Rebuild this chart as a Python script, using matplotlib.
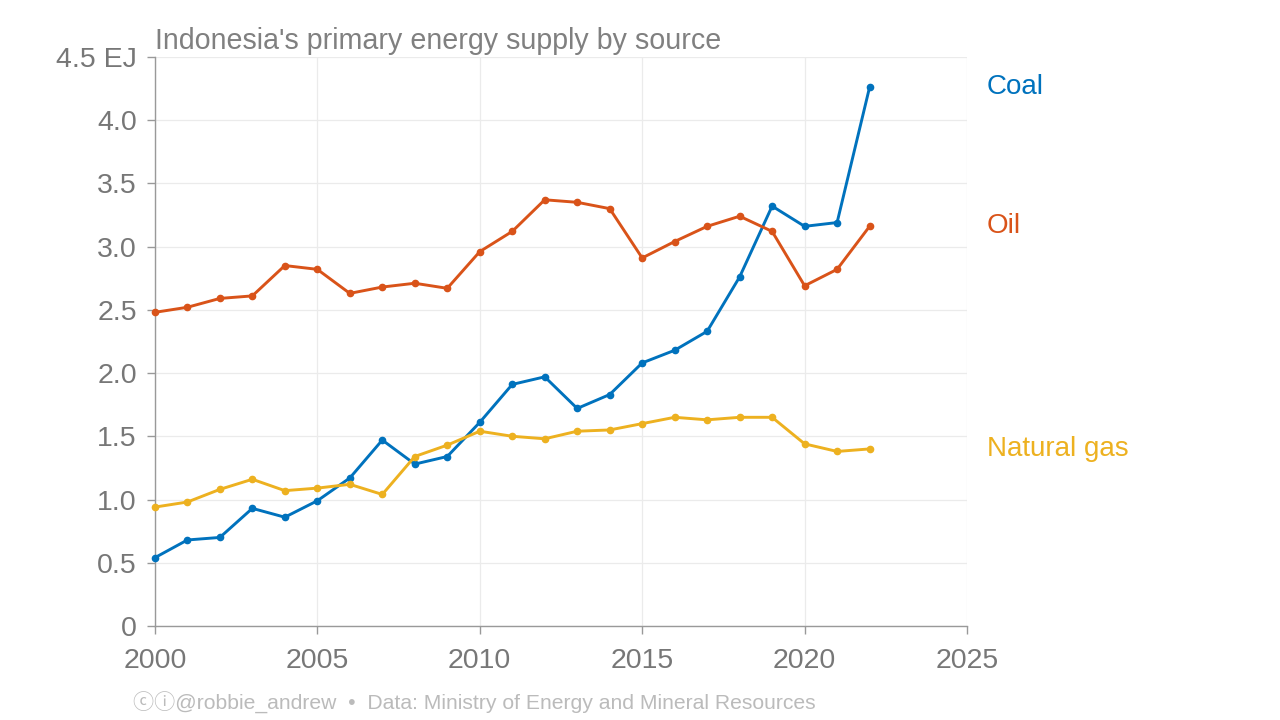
import numpy as np
import matplotlib.pyplot as plt

plt.rcParams['font.family'] = ['Liberation Sans', 'DejaVu Sans']

# ------------------------------------------------------------
# Data (EJ)
# ------------------------------------------------------------
years = list(range(2000, 2023))

coal = [0.54, 0.68, 0.70, 0.93, 0.86, 0.99, 1.17, 1.47, 1.28, 1.34, 1.61,
        1.91, 1.97, 1.72, 1.83, 2.08, 2.18, 2.33, 2.76, 3.32, 3.16, 3.19, 4.26]
oil = [2.48, 2.52, 2.59, 2.61, 2.85, 2.82, 2.63, 2.68, 2.71, 2.67, 2.96,
       3.12, 3.37, 3.35, 3.30, 2.91, 3.04, 3.16, 3.24, 3.12, 2.69, 2.82, 3.16]
gas = [0.94, 0.98, 1.08, 1.16, 1.07, 1.09, 1.12, 1.04, 1.34, 1.43, 1.54,
       1.50, 1.48, 1.54, 1.55, 1.60, 1.65, 1.63, 1.65, 1.65, 1.44, 1.38, 1.40]

series = [('Coal', coal, '#0072BD'),
          ('Oil', oil, '#D95319'),
          ('Natural gas', gas, '#EDB120')]

yticks = [0, 0.5, 1.0, 1.5, 2.0, 2.5, 3.0, 3.5, 4.0, 4.5]
ytick_labels = ['0', '0.5', '1.0', '1.5', '2.0', '2.5', '3.0', '3.5', '4.0', '4.5 EJ']
xticks = [2000, 2005, 2010, 2015, 2020, 2025]

# ------------------------------------------------------------
# Plot
# ------------------------------------------------------------
fig = plt.figure(figsize=(12.8, 7.2), dpi=100)
ax = fig.add_axes([0.121, 0.1306, 0.6345, 0.7904])

for name, vals, color in series:
    ax.plot(years, vals, color=color, linewidth=2.1, marker='o', markersize=4.5,
            zorder=3, clip_on=False)
    ax.annotate(name, xy=(1.0, vals[-1]), xycoords=('axes fraction', 'data'),
                xytext=(20, 0), textcoords='offset pixels',
                ha='left', va='center', fontsize=20, color=color)

ax.set_xlim(2000, 2025)
ax.set_ylim(0, 4.5)
ax.set_xticks(xticks)
ax.set_yticks(yticks)
ax.set_yticklabels(ytick_labels)

ax.grid(True, color='#ebebeb', linewidth=0.9, zorder=0)
for side in ['top', 'right']:
    ax.spines[side].set_visible(False)
for side in ['left', 'bottom']:
    ax.spines[side].set_color('#999999')
    ax.spines[side].set_linewidth(1)
ax.tick_params(axis='both', colors='#999999', labelcolor='#777777',
               labelsize=20.5, length=6, width=1)
ax.tick_params(axis='x', pad=10)
ax.tick_params(axis='y', pad=7)

fig.text(0.121, 0.943, "Indonesia's primary energy supply by source",
         fontsize=20.6, color='#808080', ha='left', va='center')

fig.text(0.104, 0.024, '\u24d2\u24d8@robbie_andrew  \u2022  Data: Ministry of Energy and Mineral Resources',
         fontsize=15.2, color='#bbbbbb', ha='left', va='center',
         family=['Liberation Sans', 'Noto Sans CJK SC', 'DejaVu Sans'])

plt.savefig('out.png', dpi=100)
